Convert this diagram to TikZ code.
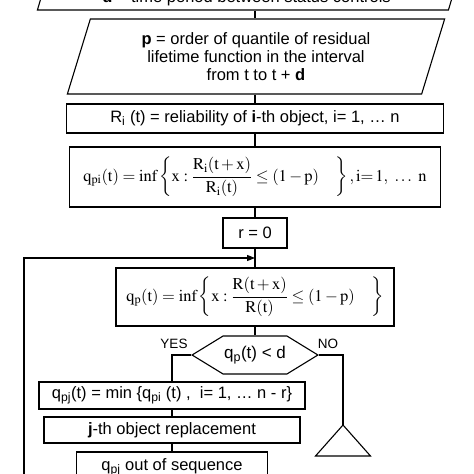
\documentclass[tikz,border=0pt]{standalone}
\usepackage{amsmath}
\usepackage{mathptmx}
\usepackage[no-math]{fontspec}
\setmainfont{Liberation Sans}
\usetikzlibrary{shapes.geometric,shapes.symbols,arrows.meta,calc}

\tikzset{
  line/.style={line width=1.1pt},
  box/.style={draw, line, rectangle, inner sep=1pt, font=\fontsize{16.5}{17.8}\selectfont},
  para/.style={draw, line, trapezium, trapezium left angle=71.6, trapezium right angle=108.4,
    trapezium stretches=true, inner sep=0pt, font=\fontsize{16.5}{17.8}\selectfont},
  decision/.style={draw, line, signal, signal to=west and east, signal pointer angle=63,
    inner sep=1pt, font=\fontsize{17}{19}\selectfont},
  lab/.style={inner sep=0pt, font=\fontsize{13.5}{15}\selectfont}
}

\begin{document}
\begin{tikzpicture}[x=1pt,y=-1pt]
\useasboundingbox (0,0) rectangle (474,474);
% input data
\node[para, minimum width=419pt, minimum height=24pt] (period) at (246.5,-2) {\textbf{d} = time period between status controls};
\node[para, minimum width=378pt, minimum height=75pt, align=center] (lifetime) at (256,56.5) {\textbf{p} = order of quantile of residual\\ lifetime function in the interval\\ from t to t + \textbf{d}};
\node[box, minimum width=377pt, minimum height=29pt] (rel) at (255,118.5) {R\textsubscript{i} (t) = reliability of \textbf{i}-th object, i= 1, \ldots\ n};
\node[box, minimum width=371pt, minimum height=60pt] (quant) at (255,177) {$\mathrm{q_{pi}(t) = inf\left\{x : \dfrac{R_i(t+x)}{R_i(t)} \le (1-p)\quad\right\}, i{=}\,1,\ \ldots\ n}$};
\node[box, minimum width=64pt, minimum height=30pt] (reset) at (255,233) {r = 0};
% loop
\node[box, minimum width=278pt, minimum height=58pt] (qsys) at (255,297) {$\mathrm{q_p(t) = inf\left\{x : \dfrac{R(t+x)}{R(t)} \le (1-p)\quad\right\}}$};
\node[decision, minimum width=117pt, minimum height=38pt] (test) at (255,355) {q\textsubscript{p}(t) < d};
\node[lab] (yes) at (174,344) {YES};
\node[lab] (no) at (328,344) {NO};
\node[box, minimum width=266pt, minimum height=27pt] (mini) at (172,395.5) {q\textsubscript{pj}(t) = min \{q\textsubscript{pi} (t) ,\ \ i= 1, \ldots\ n - r\}};
\node[box, minimum width=256pt, minimum height=26pt] (repl) at (172,430) {\textbf{j}-th object replacement};
\node[box, minimum width=191pt, minimum height=30pt] (outseq) at (172,467) {q\textsubscript{pj} out of sequence};
\coordinate (stop) at (343,425);
\draw[line] (stop) -- ++(-27.5,31) -- ++(55,0) -- cycle;
% connectors
\draw[line] (rel.north |- period.south) -- (rel.north |- lifetime.north);
\draw[line] (rel.north |- lifetime.south) -- (rel.north);
\draw[line] (rel.south) -- (quant.north);
\draw[line] (quant.south) -- (reset.north);
\draw[line] (reset.south) -- (qsys.north);
\coordinate (back) at ($(reset.south)!0.5!(qsys.north)$);
\coordinate (loopfoot) at (24,480);
\draw[line, -{Triangle[length=8pt,width=6pt]}] (loopfoot) |- (back);
\draw[line] (qsys.south) -- (test.north);
\draw[line] (test.west) -| (mini.north);
\draw[line] (test.east) -| (stop);
\draw[line] (mini.south) -- (repl.north);
\draw[line] (repl.south) -- (outseq.north);
\end{tikzpicture}
\end{document}
